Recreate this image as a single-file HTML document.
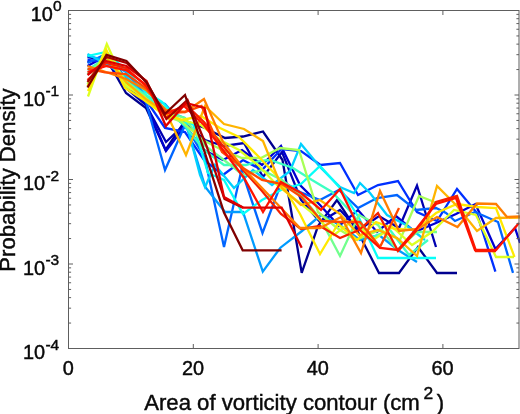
<!DOCTYPE html><html><head><meta charset="utf-8"><title>Probability Density of vorticity contour area</title><style>html,body{margin:0;padding:0;background:#fff}svg{display:block}text{font-family:"Liberation Sans", sans-serif;fill:#0a0a0a;stroke:#0a0a0a;stroke-width:0.45px}</style></head><body>
<svg width="520" height="414" viewBox="0 0 520 414">
<rect x="0" y="0" width="520" height="414" fill="#fff"/>
<g fill="none" stroke-width="2.3" stroke-linejoin="miter" stroke-linecap="butt">
<polyline stroke="#00008F" points="87.5,62.0 106.0,58.0 126.0,93.0 146.0,108.0 165.5,150.0 185.0,121.0 205.0,128.0 225.0,138.0 243.0,136.5 263.0,131.5 282.5,160.0 301.7,272.8 318.0,226.0 337.0,200.0 358.0,232.0 379.0,273.0 399.0,273.0 418.0,247.0 437.0,273.0 457.0,273.0"/>
<polyline stroke="#0000B0" points="87.5,57.0 106.0,60.0 126.0,88.0 146.0,105.0 166.0,142.0 185.0,124.0 205.0,140.0 224.0,146.0 244.0,143.0 263.0,177.0 282.0,152.0 301.0,200.0 320.0,222.0 340.0,210.0 359.0,230.0 379.0,216.0 399.0,228.0 417.0,185.5 436.0,247.0"/>
<polyline stroke="#0000D0" points="87.5,66.0 106.0,56.0 126.0,84.0 146.0,104.0 166.0,151.0 185.0,126.0 204.0,150.0 223.0,160.0 242.0,150.0 262.0,165.0 281.0,146.0 300.0,185.0 320.0,205.0 339.0,226.0 358.0,210.0 377.0,232.0 396.0,216.0 415.0,232.0 436.0,223.0 456.0,214.0 475.5,204.0 495.4,249.0 515.0,228.0 520.0,243.0"/>
<polyline stroke="#0030FF" points="87.5,60.0 106.0,62.0 126.0,80.0 146.0,100.0 165.0,128.0 185.0,132.0 204.0,160.0 223.0,175.0 243.0,160.0 262.0,170.0 281.4,149.0 301.0,151.0 320.5,165.0 340.0,163.0 358.0,195.0 378.0,185.0 398.0,181.0 417.0,212.0 437.0,221.0 457.0,189.0 476.6,212.6 495.4,271.6"/>
<polyline stroke="#0065FF" points="87.5,63.0 106.0,54.0 126.0,78.0 146.0,102.0 165.0,170.0 185.0,125.0 204.5,157.0 224.0,247.0 241.5,170.0 262.5,233.0 282.0,181.0 300.0,192.0 320.0,200.0 339.0,190.0 358.0,208.0 377.0,198.0 397.0,195.0 416.0,210.0 436.0,208.0 446.0,213.0 455.0,221.0 475.0,212.0 498.0,222.0 513.0,272.8"/>
<polyline stroke="#009BFF" points="87.5,56.0 106.0,60.0 126.0,72.0 146.0,96.0 165.0,104.0 187.7,130.0 205.3,187.0 225.0,212.0 243.0,212.0 262.8,271.6 280.4,247.7 302.0,231.0 321.0,215.0 340.0,225.0 360.0,240.0 379.0,235.0 398.0,250.0 417.0,262.0"/>
<polyline stroke="#00D0FF" points="87.5,54.0 106.0,64.0 126.0,76.0 146.0,98.0 165.0,110.0 185.0,118.0 200.0,175.0 205.0,187.0 215.0,165.0 234.0,188.0 253.0,170.0 272.0,185.0 290.0,171.0 301.0,144.0 320.0,167.0 340.0,187.0 354.0,193.0 360.0,183.0 370.0,193.0 387.0,215.0 406.0,225.0 425.0,240.0"/>
<polyline stroke="#06FFF8" points="87.5,56.0 106.0,52.0 126.0,70.0 146.0,92.0 162.0,102.0 180.0,122.0 193.0,124.0 208.0,173.0 224.0,180.0 243.0,214.0 262.0,200.0 281.0,190.0 301.0,184.0 320.0,166.0 340.0,188.0 359.0,218.0 378.0,258.0 397.0,258.0 417.0,258.0 436.0,258.0"/>
<polyline stroke="#3CFFC2" points="87.5,70.0 106.0,58.0 126.0,82.0 146.0,95.0 165.0,108.0 185.0,126.0 204.0,150.0 224.0,165.0 246.0,165.0 260.0,161.0 270.0,160.0 293.0,168.0 312.0,180.0 332.0,192.0 351.0,212.0 370.0,238.0 390.0,230.0 409.0,255.0 428.0,240.0"/>
<polyline stroke="#71FF8D" points="87.5,74.0 106.0,56.0 126.0,80.0 146.0,98.0 165.0,112.0 185.0,118.0 204.0,145.0 224.0,160.0 243.0,175.0 262.0,170.0 282.0,180.0 301.0,195.0 321.0,220.0 340.0,256.0 359.0,215.0 378.0,225.0 397.0,250.0 417.0,232.0 437.0,232.0"/>
<polyline stroke="#A7FF57" points="87.5,84.0 106.0,51.0 125.0,86.0 144.0,96.0 163.0,115.0 182.0,122.0 203.0,140.0 222.0,150.0 242.0,158.0 261.0,158.0 280.0,148.0 299.0,150.0 318.0,212.0 337.0,228.0 356.0,240.0 380.0,230.0 400.0,240.0 419.0,196.0 437.0,203.0"/>
<polyline stroke="#DDFF21" points="88.0,96.5 106.8,44.0 125.0,84.0 144.0,98.0 163.0,112.0 182.0,120.0 201.0,125.0 220.0,140.0 239.0,150.0 258.0,165.0 277.0,185.0 296.0,200.0 315.0,215.0 334.0,235.0 353.5,220.0 373.0,240.0 392.5,227.0 412.0,245.0 432.0,232.0 454.0,210.0 476.0,215.0 496.0,257.0 514.0,257.0"/>
<polyline stroke="#FFE900" points="88.0,91.0 106.3,50.0 125.0,88.0 144.0,100.0 163.0,114.0 182.0,120.0 201.0,116.0 220.0,128.0 239.0,137.0 258.0,156.0 277.0,176.0 300.0,214.0 320.0,254.0 338.0,224.0 357.0,240.0 376.0,222.0 395.0,229.0 416.0,230.0 436.0,213.0 457.0,204.0 477.0,207.0 496.0,208.0 514.5,257.0"/>
<polyline stroke="#FFB400" points="87.5,86.0 106.0,57.0 126.0,82.0 147.0,100.0 166.0,112.0 186.0,155.0 205.0,106.0 224.0,124.0 244.0,129.0 263.0,141.0 282.0,188.0 301.0,205.0 320.0,200.0 340.0,214.0 359.0,235.0 378.0,230.0 397.0,238.0 417.0,256.0 437.0,186.0 457.0,206.0 477.0,231.0 496.0,218.0 520.0,217.5"/>
<polyline stroke="#F52000" points="87.5,80.0 106.0,63.0 126.0,68.0 146.0,86.0 166.0,118.0 185.0,104.0 204.0,122.0 223.0,146.0 243.0,170.0 262.0,191.0 281.0,214.0 301.0,229.0 320.0,226.0 340.0,238.0 359.0,230.0 378.0,213.0 398.0,251.0 417.0,230.0 436.0,202.0 457.0,196.0 476.0,251.0 496.0,251.0"/>
<polyline stroke="#FF7E00" points="87.5,66.0 106.0,72.0 126.0,79.0 146.0,90.0 166.0,110.0 185.0,112.0 204.0,99.0 223.0,142.0 243.0,168.0 263.0,189.0 282.0,209.0 300.0,228.0 320.0,228.0 341.0,217.0 361.0,253.0 380.0,191.0 399.0,231.0 418.0,229.0 437.0,217.0 457.5,227.0 477.0,203.5 496.0,204.0 507.0,217.0 520.0,216.5"/>
<polyline stroke="#FF4900" points="87.5,68.6 105.0,72.4 126.0,74.0 146.0,88.0 166.6,113.0 185.0,112.0 201.5,106.0 222.0,152.0 243.0,168.0 262.0,180.0 282.0,184.0 301.5,197.0 321.5,221.0 340.5,222.0 360.0,222.0 380.0,247.0 399.0,208.0"/>
<polyline stroke="#FF1300" points="87.5,72.0 106.5,66.0 126.0,70.0 145.0,84.0 165.0,114.0 184.0,106.0 204.0,125.0 223.0,150.0 244.0,178.0 263.0,212.0 281.0,182.0 301.0,193.0 321.0,210.0 340.0,189.0 360.0,230.0 380.0,248.0 398.0,250.0 417.0,228.0 436.0,204.0 456.0,198.0 475.0,250.0 496.0,250.0 519.0,223.0"/>
<polyline stroke="#A80000" points="87.5,82.0 106.5,57.0 126.6,63.0 146.6,82.0 166.5,119.0 187.5,100.0 206.5,146.0 224.5,199.0 243.0,207.6"/>
<polyline stroke="#DE0000" points="87.5,75.0 105.5,61.0 126.4,66.0 146.5,81.0 165.8,126.0 186.0,103.0 204.5,108.0 224.0,197.0 243.0,207.6 262.0,207.6 281.6,207.6 301.7,247.8"/>
<polyline stroke="#800000" points="87.5,87.5 106.5,54.8 126.4,61.0 146.5,82.4 164.8,114.0 185.0,95.0 204.3,151.0 224.0,212.6 242.7,250.3 262.0,250.3 281.6,250.3"/>
</g>
<rect x="68.5" y="10.5" width="450.5" height="338.0" fill="none" stroke="#5e5e5e" stroke-width="1"/>
<path d="M68.5,10.50h4.5 M519.0,10.50h-4.5 M68.5,69.56h2.6 M519.0,69.56h-2.6 M68.5,54.68h2.6 M519.0,54.68h-2.6 M68.5,44.13h2.6 M519.0,44.13h-2.6 M68.5,35.94h2.6 M519.0,35.94h-2.6 M68.5,29.25h2.6 M519.0,29.25h-2.6 M68.5,23.59h2.6 M519.0,23.59h-2.6 M68.5,18.69h2.6 M519.0,18.69h-2.6 M68.5,14.37h2.6 M519.0,14.37h-2.6 M68.5,95.00h4.5 M519.0,95.00h-4.5 M68.5,154.06h2.6 M519.0,154.06h-2.6 M68.5,139.18h2.6 M519.0,139.18h-2.6 M68.5,128.63h2.6 M519.0,128.63h-2.6 M68.5,120.44h2.6 M519.0,120.44h-2.6 M68.5,113.75h2.6 M519.0,113.75h-2.6 M68.5,108.09h2.6 M519.0,108.09h-2.6 M68.5,103.19h2.6 M519.0,103.19h-2.6 M68.5,98.87h2.6 M519.0,98.87h-2.6 M68.5,179.50h4.5 M519.0,179.50h-4.5 M68.5,238.56h2.6 M519.0,238.56h-2.6 M68.5,223.68h2.6 M519.0,223.68h-2.6 M68.5,213.13h2.6 M519.0,213.13h-2.6 M68.5,204.94h2.6 M519.0,204.94h-2.6 M68.5,198.25h2.6 M519.0,198.25h-2.6 M68.5,192.59h2.6 M519.0,192.59h-2.6 M68.5,187.69h2.6 M519.0,187.69h-2.6 M68.5,183.37h2.6 M519.0,183.37h-2.6 M68.5,264.00h4.5 M519.0,264.00h-4.5 M68.5,323.06h2.6 M519.0,323.06h-2.6 M68.5,308.18h2.6 M519.0,308.18h-2.6 M68.5,297.63h2.6 M519.0,297.63h-2.6 M68.5,289.44h2.6 M519.0,289.44h-2.6 M68.5,282.75h2.6 M519.0,282.75h-2.6 M68.5,277.09h2.6 M519.0,277.09h-2.6 M68.5,272.19h2.6 M519.0,272.19h-2.6 M68.5,267.87h2.6 M519.0,267.87h-2.6 M68.5,348.50h4.5 M519.0,348.50h-4.5 M193.3,348.5v-4.5 M193.3,10.5v4.5 M318.1,348.5v-4.5 M318.1,10.5v4.5 M442.90000000000003,348.5v-4.5 M442.90000000000003,10.5v4.5" stroke="#5e5e5e" stroke-width="1" fill="none"/>
<text x="52.8" y="21.0" font-size="19.9" text-anchor="end">10</text>
<text x="53.0" y="10.8" font-size="15.5" text-anchor="start">0</text>
<text x="45.2" y="105.5" font-size="19.9" text-anchor="end">10</text>
<text x="45.400000000000006" y="96.4" font-size="15.5" text-anchor="start">-1</text>
<text x="45.2" y="190.0" font-size="19.9" text-anchor="end">10</text>
<text x="45.400000000000006" y="180.9" font-size="15.5" text-anchor="start">-2</text>
<text x="45.2" y="274.5" font-size="19.9" text-anchor="end">10</text>
<text x="45.400000000000006" y="265.4" font-size="15.5" text-anchor="start">-3</text>
<text x="45.2" y="359.0" font-size="19.9" text-anchor="end">10</text>
<text x="45.400000000000006" y="349.9" font-size="15.5" text-anchor="start">-4</text>
<text x="68.2" y="375" font-size="19.9" text-anchor="middle">0</text>
<text x="193.0" y="375" font-size="19.9" text-anchor="middle">20</text>
<text x="317.8" y="375" font-size="19.9" text-anchor="middle">40</text>
<text x="442.6" y="375" font-size="19.9" text-anchor="middle">60</text>
<text x="144.2" y="409.8" font-size="22.15" text-anchor="start">Area of vorticity contour (cm</text>
<text x="423.6" y="398.8" font-size="17.4" text-anchor="start">2</text>
<text x="436.8" y="409.8" font-size="22.15" text-anchor="start">)</text>
<text transform="translate(15.2,180) rotate(-90)" font-size="22.15" text-anchor="middle">Probability Density</text>
</svg></body></html>
